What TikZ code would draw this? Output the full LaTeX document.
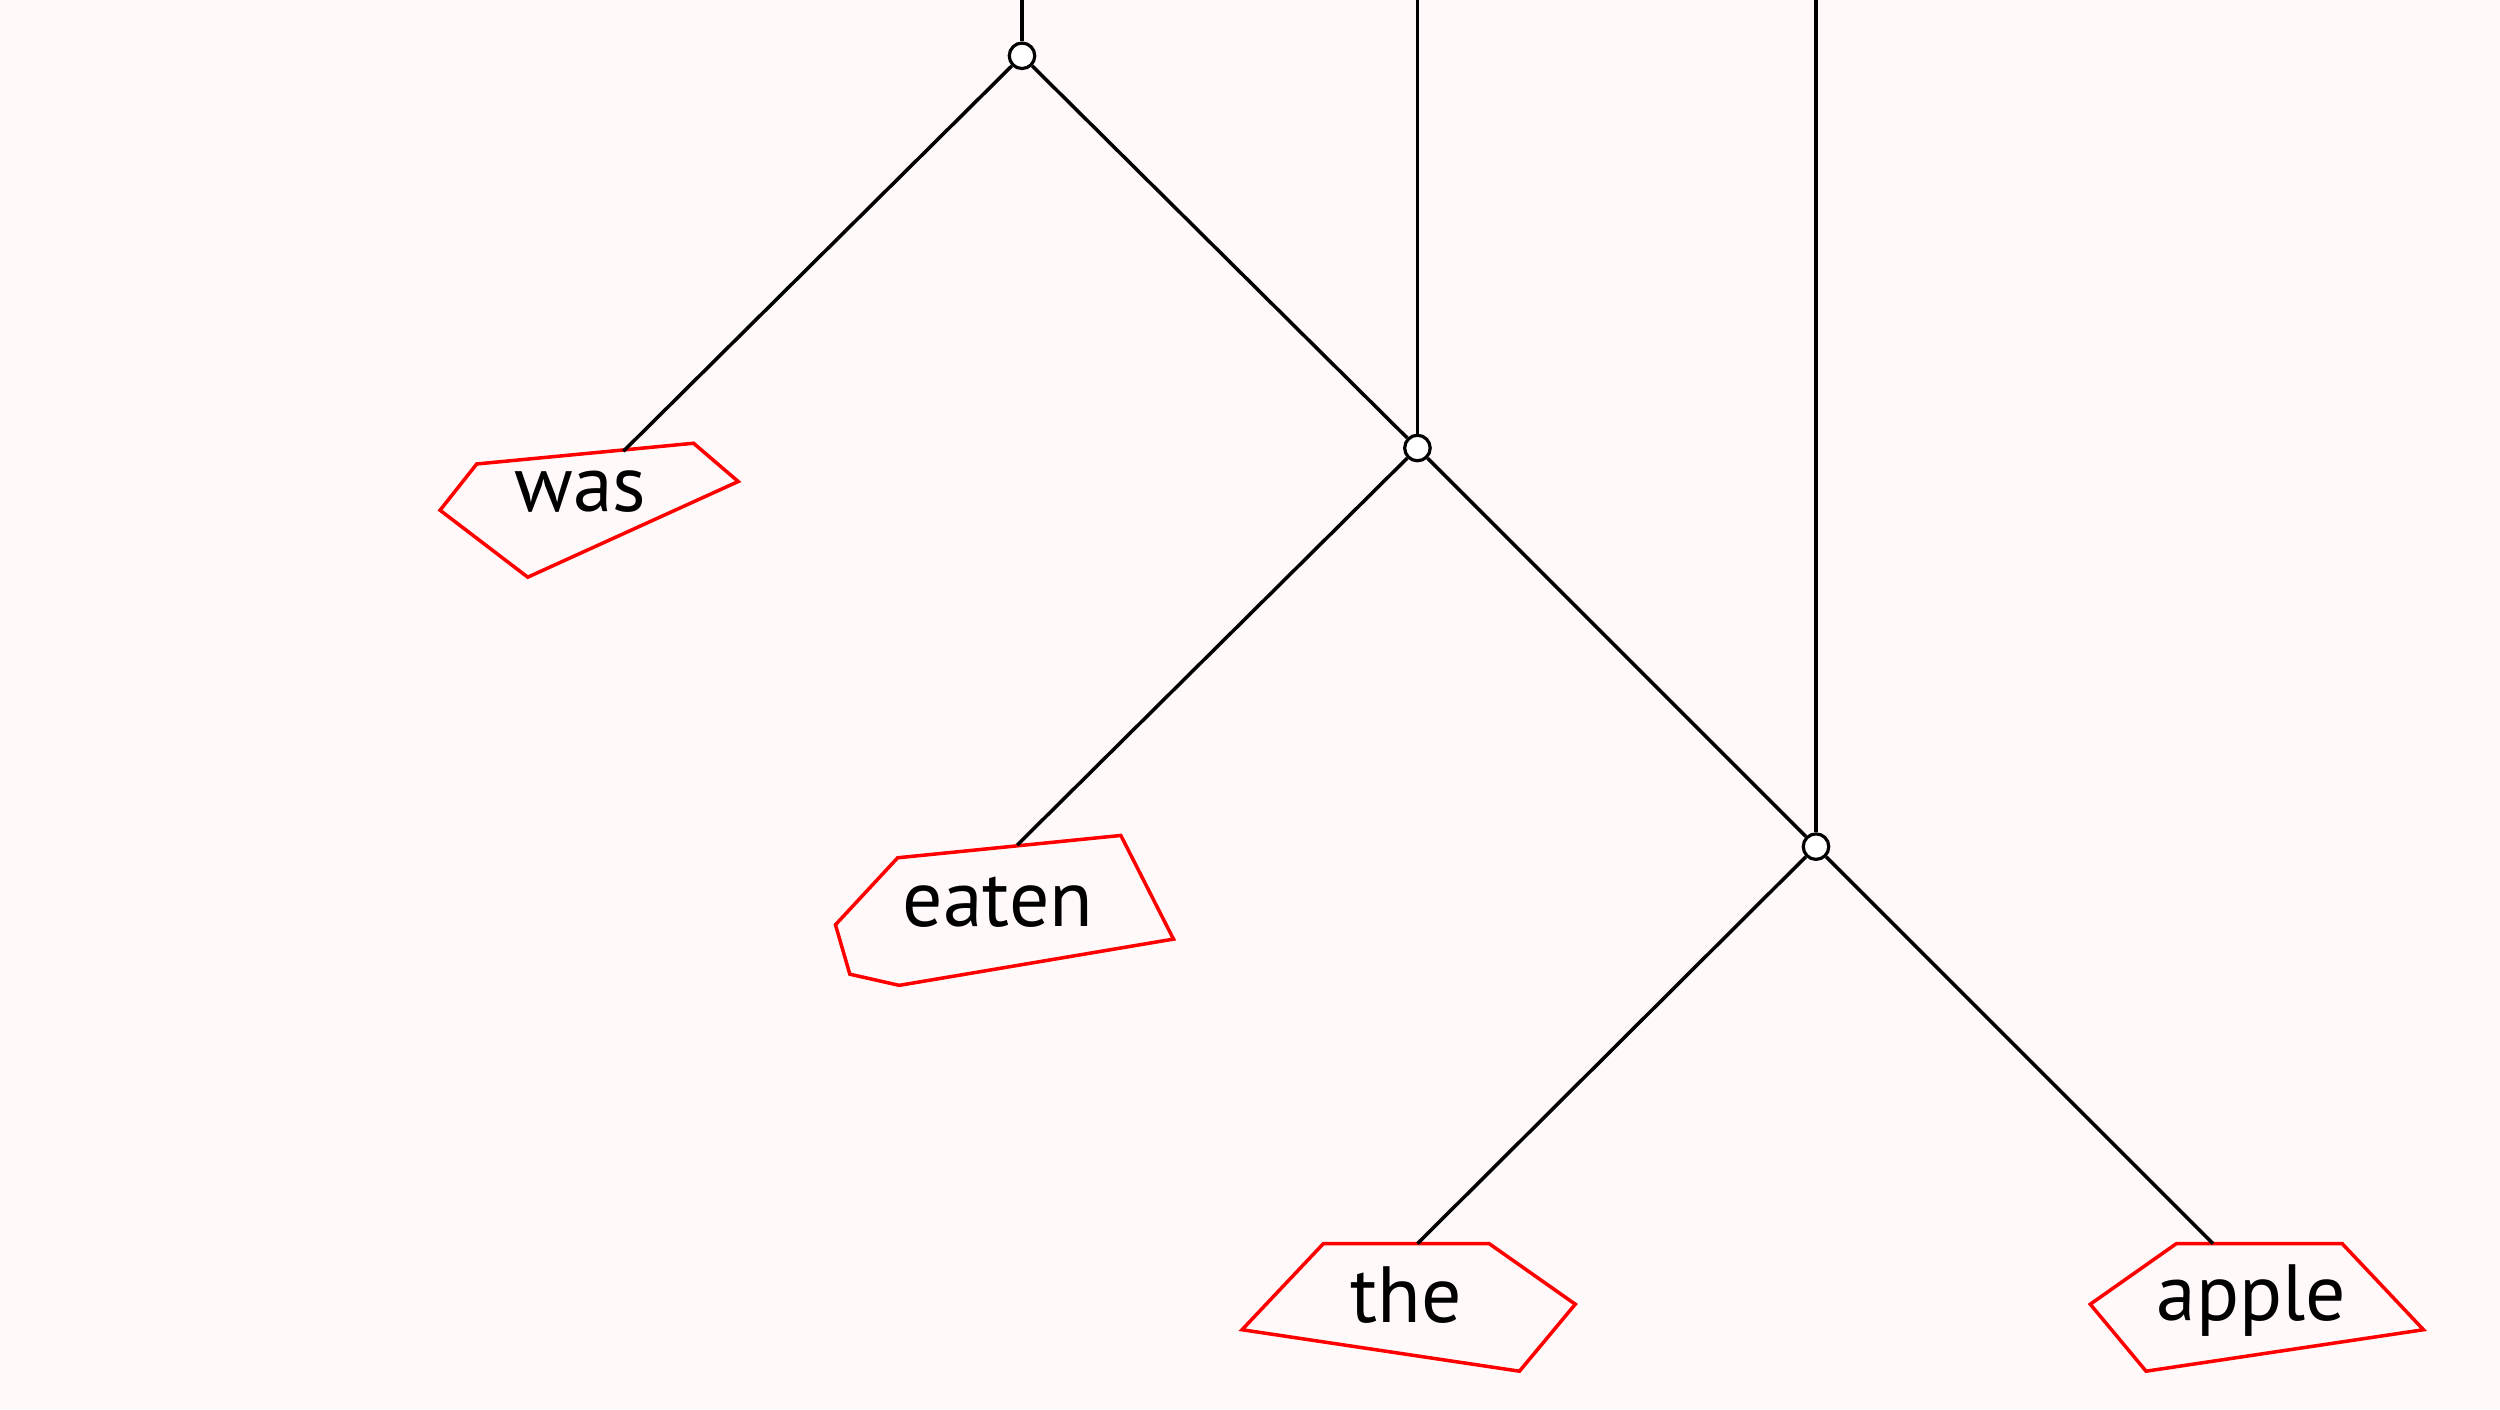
\documentclass[tikz,border=0pt]{standalone}
\usepackage{fontspec}
\setmainfont{PT Sans}
\definecolor{bgc}{RGB}{255,250,249}
\definecolor{lbl}{RGB}{255,0,0}
\begin{document}
\begin{tikzpicture}[x=0.5pt,y=-0.5pt,
  edge/.style={draw=black,line width=1.1pt},
  junction/.style={circle,draw=black,fill=white,line width=1pt,inner sep=0pt,minimum size=8pt},
  leafshape/.style={draw=lbl,line width=1.1pt,line join=miter},
  word/.style={inner sep=0pt,font=\fontsize{25}{30}\selectfont}]
\fill[bgc] (0,0) rectangle (1568,884);
\useasboundingbox (0,0) rectangle (1568,884);
% top free ends
\coordinate (topA) at (641,0);
\coordinate (topB) at (889,0);
\coordinate (topC) at (1139,0);
% leaf attachment points
\coordinate (wasTop) at (391,283);
\coordinate (eatenTop) at (638,530);
\coordinate (theTop) at (889,780);
\coordinate (appleTop) at (1388,780);
% leaf shapes
\draw[leafshape] (299,291) -- (435,278) -- (463,302) -- (331,362) -- (276,320) -- cycle;
\draw[leafshape] (563,538) -- (703,524) -- (736,589) -- (564,618) -- (533,611) -- (524,580) -- cycle;
\draw[leafshape] (830,780) -- (934,780) -- (988,818) -- (953,860) -- (779,834) -- cycle;
\draw[leafshape] (1365,780) -- (1469,780) -- (1520,834) -- (1346,860) -- (1311,818) -- cycle;
% junctions
\node[junction] (A) at (641,35) {};
\node[junction] (B) at (889,281) {};
\node[junction] (C) at (1139,531) {};
% words
\node[word] (was) at (364,308) {was};
\node[word] (eaten) at (626,566) {eaten};
\node[word] (the) at (882,812) {the};
\node[word] (apple) at (1412,816) {apple};
% connectors
\draw[edge] (topA) -- (A);
\draw[edge] (topB) -- (B);
\draw[edge] (topC) -- (C);
\draw[edge] (A) -- (wasTop);
\draw[edge] (A) -- (B);
\draw[edge] (B) -- (eatenTop);
\draw[edge] (B) -- (C);
\draw[edge] (C) -- (theTop);
\draw[edge] (C) -- (appleTop);
\end{tikzpicture}
\end{document}
